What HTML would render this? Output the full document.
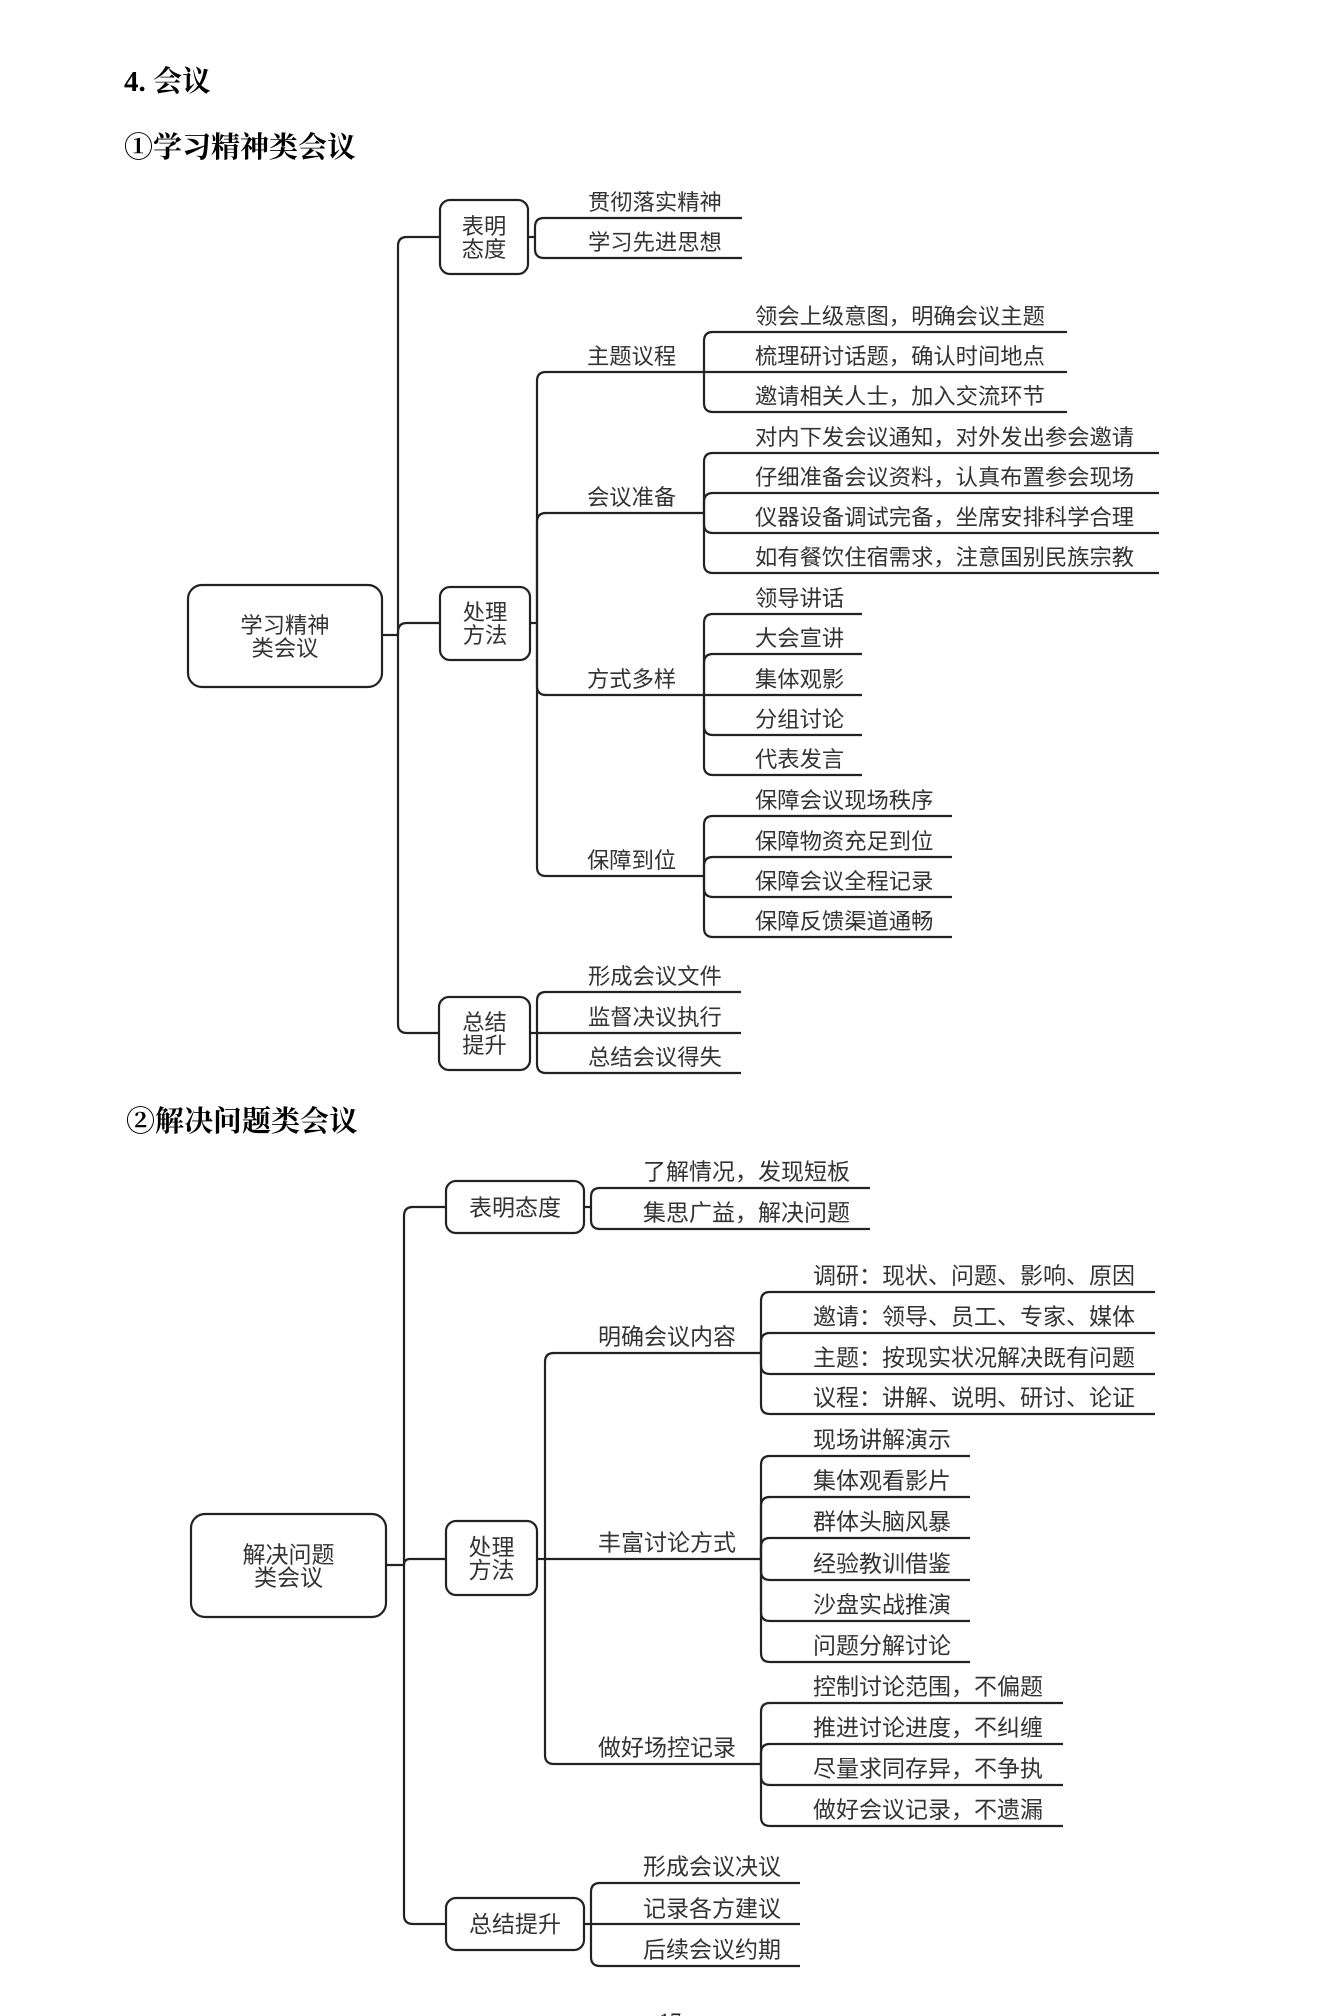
<!DOCTYPE html>
<html>
<head>
<meta charset="utf-8">
<style>
  html, body { margin: 0; padding: 0; background: #fff; }
  body { width: 1337px; height: 2016px; overflow: hidden; }
  svg { display: block; }
  .t { font-family: "Liberation Sans", "Noto Sans CJK SC", sans-serif; fill: #333; }
  .d1 { font-size: 22.3px; }
  .d2 { font-size: 23px; }
  .title { font-family: "Liberation Serif", "Noto Serif CJK SC", serif; font-weight: 700; font-size: 29px; fill: #000; }
  .ln { fill: none; stroke: #222; stroke-width: 2.2; stroke-linecap: butt; stroke-linejoin: round; }
  .bx { fill: #fff; stroke: #222; stroke-width: 2.2; }
</style>
</head>
<body>
<svg width="1337" height="2016" viewBox="0 0 1337 2016" xmlns="http://www.w3.org/2000/svg">
  <rect x="0" y="0" width="1337" height="2016" fill="#fff"/>

  <!-- Titles -->
  <text class="title" x="124" y="91">4. 会议</text>
  <text class="title" x="124" y="157">①学习精神类会议</text>
  <text class="title" x="126" y="1131">②解决问题类会议</text>

  <!-- ================= Diagram 1 ================= -->
  <g class="ln">
    <path d="M382,635 H398"/>
    <path d="M398,635 V246 Q398,237 407,237 H440"/>
    <path d="M398,635 V632 Q398,623 407,623 H440"/>
    <path d="M398,635 V1024 Q398,1033 407,1033 H439"/>

    <path d="M528,237 H535"/>
    <path d="M535,237 V227 Q535,218 544,218 H742"/>
    <path d="M535,237 V249 Q535,258 544,258 H742"/>

    <path d="M530,623 H537"/>
    <path d="M537,623 V381 Q537,372 546,372 H704"/>
    <path d="M537,623 V522 Q537,513 546,513 H704"/>
    <path d="M537,623 V686 Q537,695 546,695 H704"/>
    <path d="M537,623 V867 Q537,876 546,876 H704"/>

    <path d="M704,372 V341 Q704,332 713,332 H1067"/>
    <path d="M704,372 H1067"/>
    <path d="M704,372 V403 Q704,412 713,412 H1067"/>

    <path d="M704,513 V462 Q704,453 713,453 H1159"/>
    <path d="M704,513 V502 Q704,493 713,493 H1159"/>
    <path d="M704,513 V524 Q704,533 713,533 H1159"/>
    <path d="M704,513 V564 Q704,573 713,573 H1159"/>

    <path d="M704,695 V623 Q704,614 713,614 H862"/>
    <path d="M704,695 V663 Q704,654 713,654 H862"/>
    <path d="M704,695 H862"/>
    <path d="M704,695 V726 Q704,735 713,735 H862"/>
    <path d="M704,695 V766 Q704,775 713,775 H862"/>

    <path d="M704,876 V825 Q704,816 713,816 H952"/>
    <path d="M704,876 V866 Q704,857 713,857 H952"/>
    <path d="M704,876 V888 Q704,897 713,897 H952"/>
    <path d="M704,876 V928 Q704,937 713,937 H952"/>

    <path d="M530,1033 H537"/>
    <path d="M537,1033 V1001 Q537,992 546,992 H741"/>
    <path d="M537,1033 H741"/>
    <path d="M537,1033 V1064 Q537,1073 546,1073 H741"/>
  </g>

  <rect class="bx" x="188" y="585" width="194" height="102" rx="14"/>
  <rect class="bx" x="440" y="200" width="88" height="74" rx="10"/>
  <rect class="bx" x="440" y="587" width="90" height="73" rx="10"/>
  <rect class="bx" x="439" y="997" width="91" height="73" rx="10"/>

  <g class="t d1" text-anchor="middle">
    <text x="285" y="633">学习精神</text>
    <text x="285" y="656">类会议</text>
    <text x="484" y="234">表明</text>
    <text x="484" y="257">态度</text>
    <text x="485" y="620">处理</text>
    <text x="485" y="643">方法</text>
    <text x="484.5" y="1030">总结</text>
    <text x="484.5" y="1053">提升</text>
  </g>

  <g class="t d1">
    <text x="588" y="210">贯彻落实精神</text>
    <text x="588" y="250">学习先进思想</text>

    <text x="587" y="364">主题议程</text>
    <text x="755" y="324">领会上级意图，明确会议主题</text>
    <text x="755" y="364">梳理研讨话题，确认时间地点</text>
    <text x="755" y="404">邀请相关人士，加入交流环节</text>

    <text x="587" y="505">会议准备</text>
    <text x="755" y="445">对内下发会议通知，对外发出参会邀请</text>
    <text x="755" y="485">仔细准备会议资料，认真布置参会现场</text>
    <text x="755" y="525">仪器设备调试完备，坐席安排科学合理</text>
    <text x="755" y="565">如有餐饮住宿需求，注意国别民族宗教</text>

    <text x="587" y="687">方式多样</text>
    <text x="755" y="606">领导讲话</text>
    <text x="755" y="646">大会宣讲</text>
    <text x="755" y="687">集体观影</text>
    <text x="755" y="727">分组讨论</text>
    <text x="755" y="767">代表发言</text>

    <text x="587" y="868">保障到位</text>
    <text x="755" y="808">保障会议现场秩序</text>
    <text x="755" y="849">保障物资充足到位</text>
    <text x="755" y="889">保障会议全程记录</text>
    <text x="755" y="929">保障反馈渠道通畅</text>

    <text x="588" y="984">形成会议文件</text>
    <text x="588" y="1025">监督决议执行</text>
    <text x="588" y="1065">总结会议得失</text>
  </g>

  <!-- ================= Diagram 2 ================= -->
  <g class="ln">
    <path d="M386,1565 H404"/>
    <path d="M404,1565 V1216 Q404,1207 413,1207 H446"/>
    <path d="M404,1565 Q404,1559 410,1559 H446"/>
    <path d="M404,1565 V1915 Q404,1924 413,1924 H446"/>

    <path d="M584,1207 H591"/>
    <path d="M591,1207 V1197 Q591,1188 600,1188 H870"/>
    <path d="M591,1207 V1220 Q591,1229 600,1229 H870"/>

    <path d="M537,1559 H545"/>
    <path d="M545,1559 V1362 Q545,1353 554,1353 H761"/>
    <path d="M545,1559 H761"/>
    <path d="M545,1559 V1755 Q545,1764 554,1764 H761"/>

    <path d="M761,1353 V1301 Q761,1292 770,1292 H1155"/>
    <path d="M761,1353 V1342 Q761,1333 770,1333 H1155"/>
    <path d="M761,1353 V1365 Q761,1374 770,1374 H1155"/>
    <path d="M761,1353 V1405 Q761,1414 770,1414 H1155"/>

    <path d="M761,1559 V1465 Q761,1456 770,1456 H970"/>
    <path d="M761,1559 V1506 Q761,1497 770,1497 H970"/>
    <path d="M761,1559 V1547 Q761,1538 770,1538 H970"/>
    <path d="M761,1559 V1571 Q761,1580 770,1580 H970"/>
    <path d="M761,1559 V1612 Q761,1621 770,1621 H970"/>
    <path d="M761,1559 V1653 Q761,1662 770,1662 H970"/>

    <path d="M761,1764 V1712 Q761,1703 770,1703 H1063"/>
    <path d="M761,1764 V1753 Q761,1744 770,1744 H1063"/>
    <path d="M761,1764 V1776 Q761,1785 770,1785 H1063"/>
    <path d="M761,1764 V1817 Q761,1826 770,1826 H1063"/>

    <path d="M584,1924 H591"/>
    <path d="M591,1924 V1892 Q591,1883 600,1883 H800"/>
    <path d="M591,1924 H800"/>
    <path d="M591,1924 V1957 Q591,1966 600,1966 H800"/>
  </g>

  <rect class="bx" x="191" y="1514" width="195" height="103" rx="14"/>
  <rect class="bx" x="446" y="1181" width="138" height="52" rx="10"/>
  <rect class="bx" x="446" y="1521" width="91" height="74" rx="10"/>
  <rect class="bx" x="446" y="1898" width="138" height="52" rx="10"/>

  <g class="t d2" text-anchor="middle">
    <text x="288.5" y="1562.5">解决问题</text>
    <text x="288.5" y="1585.5">类会议</text>
    <text x="515" y="1215.5">表明态度</text>
    <text x="491.5" y="1555">处理</text>
    <text x="491.5" y="1578">方法</text>
    <text x="515" y="1932">总结提升</text>
  </g>

  <g class="t d2">
    <text x="643" y="1179.5">了解情况，发现短板</text>
    <text x="643" y="1220.5">集思广益，解决问题</text>

    <text x="598" y="1344.5">明确会议内容</text>
    <text x="813" y="1283.5">调研：现状、问题、影响、原因</text>
    <text x="813" y="1324.5">邀请：领导、员工、专家、媒体</text>
    <text x="813" y="1365.5">主题：按现实状况解决既有问题</text>
    <text x="813" y="1405.5">议程：讲解、说明、研讨、论证</text>

    <text x="598" y="1550.5">丰富讨论方式</text>
    <text x="813" y="1447.5">现场讲解演示</text>
    <text x="813" y="1488.5">集体观看影片</text>
    <text x="813" y="1529.5">群体头脑风暴</text>
    <text x="813" y="1571.5">经验教训借鉴</text>
    <text x="813" y="1612.5">沙盘实战推演</text>
    <text x="813" y="1653.5">问题分解讨论</text>

    <text x="598" y="1755.5">做好场控记录</text>
    <text x="813" y="1694.5">控制讨论范围，不偏题</text>
    <text x="813" y="1735.5">推进讨论进度，不纠缠</text>
    <text x="813" y="1776.5">尽量求同存异，不争执</text>
    <text x="813" y="1817.5">做好会议记录，不遗漏</text>

    <text x="643" y="1874.5">形成会议决议</text>
    <text x="643" y="1916.5">记录各方建议</text>
    <text x="643" y="1957.5">后续会议约期</text>
  </g>

  <!-- page number (mostly cut off) -->
  <text x="670" y="2028" text-anchor="middle" font-family="Liberation Serif, serif" font-size="22" fill="#222">17</text>
</svg>
</body>
</html>
